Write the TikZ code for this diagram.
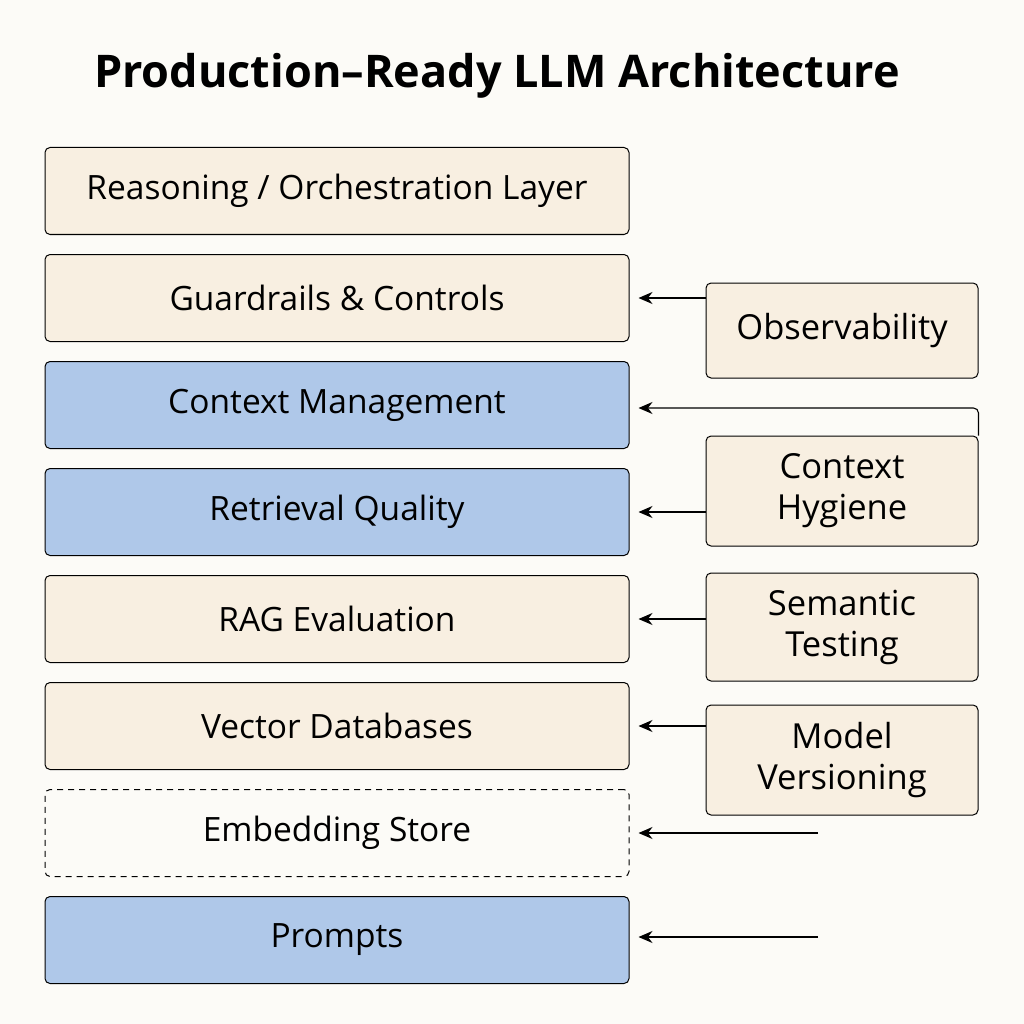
\documentclass[tikz,border=0pt]{standalone}
\usepackage{fontspec}
\setmainfont{Open Sans}
\usetikzlibrary{positioning,arrows.meta}

\definecolor{bgcream}{HTML}{FCFBF7}
\definecolor{layerbeige}{HTML}{F8EFE1}
\definecolor{layerblue}{HTML}{AFC8E9}

\tikzset{
    layer/.style={draw, line width=1pt, rounded corners=5pt, fill=layerbeige,
        minimum width=584pt, minimum height=87pt, inner sep=0pt,
        font=\fontsize{33.5}{40}\selectfont},
    bluelayer/.style={layer, fill=layerblue},
    openlayer/.style={layer, fill=none, dashed, dash pattern=on 6pt off 5pt},
    sidebox/.style={draw, line width=1pt, rounded corners=5pt, fill=layerbeige,
        minimum width=272pt, inner sep=0pt, align=center,
        font=\fontsize{34.5}{41}\selectfont},
    feed/.style={-{Stealth[length=14pt,width=12pt]}, line width=1.1pt, shorten >=9pt},
}

\begin{document}
\begin{tikzpicture}[x=1pt, y=-1pt, node distance=107pt]
    \fill[bgcream] (0,0) rectangle (1024,1024);
    \useasboundingbox (0,0) rectangle (1024,1024);

    \node[font=\bfseries\fontsize{45}{50}\selectfont] (title) at (497,76) {Production–Ready LLM Architecture};

    % left stack
    \node[layer] (reason) at (337,191) {Reasoning / Orchestration Layer};
    \node[layer, below of=reason] (guard) {Guardrails \& Controls};
    \node[bluelayer, below of=guard] (ctxmgmt) {Context Management};
    \node[bluelayer, below of=ctxmgmt] (retr) {Retrieval Quality};
    \node[layer, below of=retr] (rageval) {RAG Evaluation};
    \node[layer, below of=rageval] (vecdb) {Vector Databases};
    \node[openlayer, below of=vecdb] (embstore) {Embedding Store};
    \node[bluelayer, below of=embstore] (prompts) {Prompts};

    % right side
    \node[sidebox, minimum height=95pt] (obs) at (842,330.5) {Observability};
    \node[sidebox, minimum height=110pt] (hygiene) at (842,491) {Context\\Hygiene};
    \node[sidebox, minimum height=108pt] (semtest) at (842,627) {Semantic\\Testing};
    \node[sidebox, minimum height=110pt] (modelver) at (842,760) {Model\\Versioning};

    \coordinate (embsrc) at (818,833);
    \coordinate (promptsrc) at (818,937);

    \draw[feed] (obs.west |- guard.east) -- (guard.east);
    \draw[feed, rounded corners=5pt] (hygiene.north east) |- ([yshift=-3pt]ctxmgmt.east);
    \draw[feed] (hygiene.west |- retr.east) -- (retr.east);
    \draw[feed] (semtest.west |- rageval.east) -- (rageval.east);
    \draw[feed] (modelver.west |- vecdb.east) -- (vecdb.east);
    \draw[feed] (embsrc) -- (embsrc -| embstore.east);
    \draw[feed] (promptsrc) -- (promptsrc -| prompts.east);
\end{tikzpicture}
\end{document}
